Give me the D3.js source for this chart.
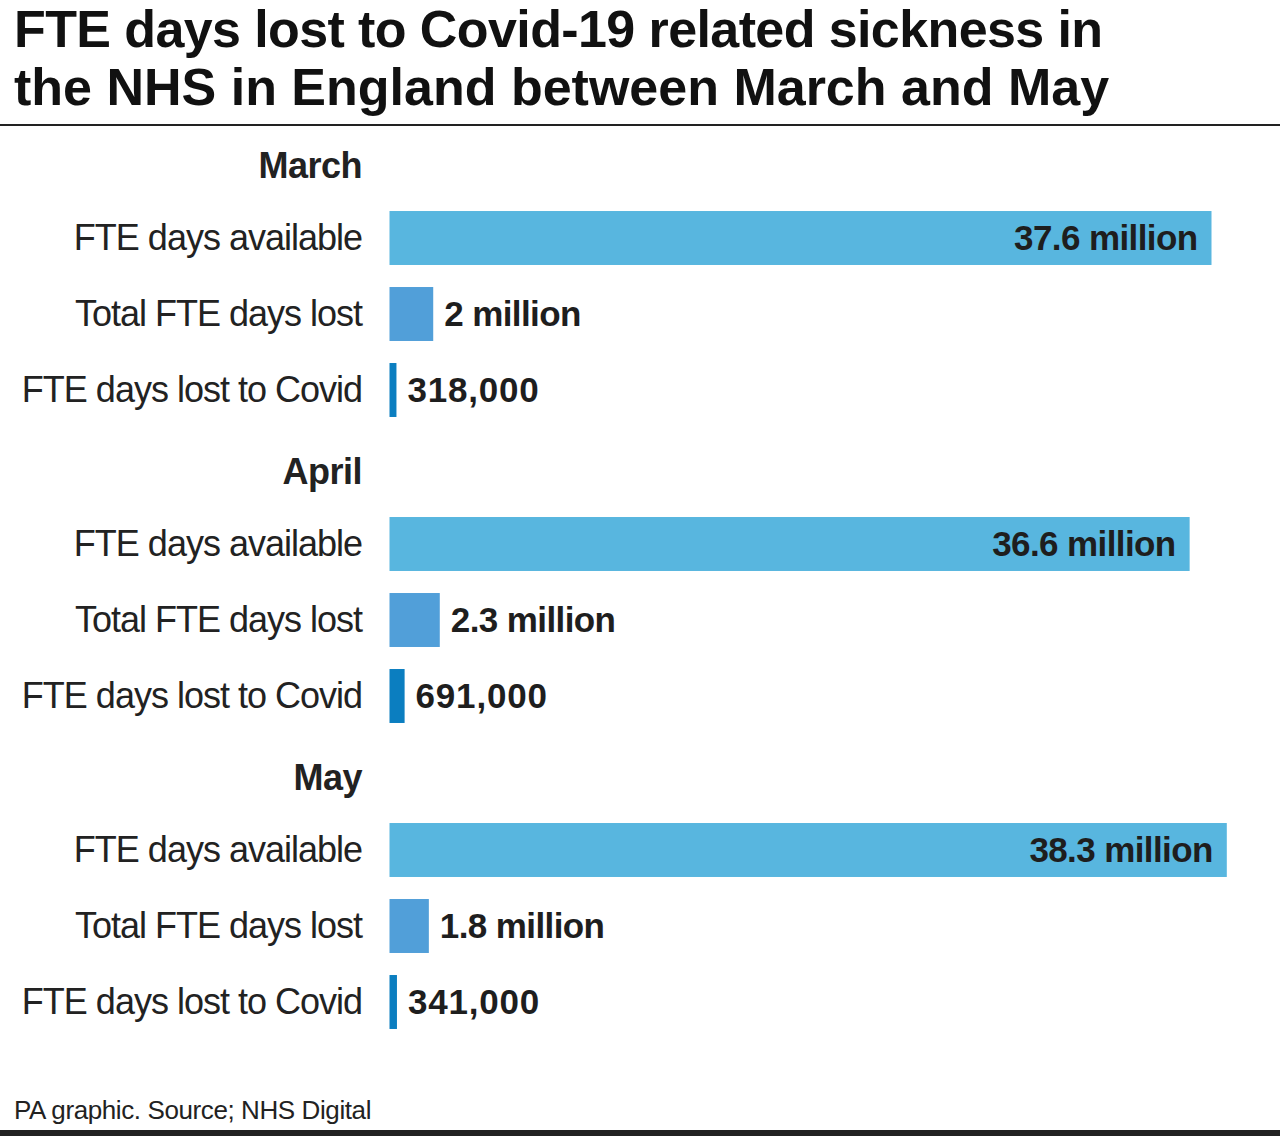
<!DOCTYPE html>
<html>
<head>
<meta charset="utf-8">
<script src="https://cdn.jsdelivr.net/npm/d3@7"></script>
<style>
  body { margin: 0; background: #fff; }
  svg text { font-family: "Liberation Sans", Arial, sans-serif; }
</style>
</head>
<body>
<div id="chart"></div>
<script>
// data (millions of FTE days)
const months = ["March", "April", "May"];
const rows = ["FTE days available", "Total FTE days lost", "FTE days lost to Covid"];
const available = [37.6, 36.6, 38.3];
const totalLost = [2.0, 2.3, 1.8];
const covidLost = [0.318, 0.691, 0.341];
const valueLabels = [
  ["37.6 million", "2 million", "318,000"],
  ["36.6 million", "2.3 million", "691,000"],
  ["38.3 million", "1.8 million", "341,000"]
];
const rowColors = ["#58b6df", "#519fd9", "#0b7ec0"];

const width = 1280, height = 1136;

const svg = d3.select("#chart")
  .append("svg")
  .attr("width", width)
  .attr("height", height);

// title
const title = svg.append("text")
  .attr("x", 14)
  .attr("font-size", 52)
  .attr("font-weight", "bold")
  .attr("fill", "#111");
title.append("tspan").attr("x", 14).attr("y", 47)
  .attr("letter-spacing", -0.6)
  .text("FTE days lost to Covid-19 related sickness in");
title.append("tspan").attr("x", 14).attr("y", 105)
  .attr("letter-spacing", 0)
  .text("the NHS in England between March and May");

svg.append("line")
  .attr("x1", 0).attr("x2", width)
  .attr("y1", 125).attr("y2", 125)
  .attr("stroke", "#222").attr("stroke-width", 2);

// scales
const x = d3.scaleLinear().domain([0, 37.6]).range([389.5, 1211.5]);
const groupY = d3.scaleBand().domain(months).range([131, 1049]);
const rowY = d3.scaleBand().domain(rows).range([69, 297]).paddingInner(0.29).paddingOuter(0.145);

const groups = svg.selectAll("g.month")
  .data(months)
  .join("g")
  .attr("class", "month")
  .attr("transform", d => `translate(0,${groupY(d)})`);

groups.append("text")
  .attr("x", 362)
  .attr("y", 47)
  .attr("text-anchor", "end")
  .attr("font-size", 36)
  .attr("font-weight", "bold")
  .attr("fill", "#222")
  .attr("letter-spacing", -0.5)
  .text(d => d);

const rowData = (m, i) => rows.map((r, j) => ({
  row: r,
  j: j,
  value: [available, totalLost, covidLost][j][i],
  label: valueLabels[i][j]
}));

const rowG = groups.selectAll("g.row")
  .data((m, i) => rowData(m, i))
  .join("g")
  .attr("class", "row")
  .attr("transform", d => `translate(0,${rowY(d.row)})`);

rowG.append("text")
  .attr("x", 362)
  .attr("y", rowY.bandwidth() / 2 + 12)
  .attr("text-anchor", "end")
  .attr("font-size", 36)
  .attr("fill", "#222")
  .attr("letter-spacing", -1.0)
  .text(d => d.row);

rowG.append("rect")
  .attr("x", x(0))
  .attr("y", 0)
  .attr("width", d => Math.max(6, x(d.value) - x(0)))
  .attr("height", rowY.bandwidth())
  .attr("fill", d => rowColors[d.j]);

rowG.append("text")
  .attr("x", d => d.j === 0 ? x(d.value) - 14 : x(0) + Math.max(6, x(d.value) - x(0)) + 11)
  .attr("y", rowY.bandwidth() / 2 + 12)
  .attr("text-anchor", d => d.j === 0 ? "end" : "start")
  .attr("font-size", 35)
  .attr("font-weight", "bold")
  .attr("fill", "#1e1e1e")
  .attr("letter-spacing", d => d.j === 2 ? 0.8 : -0.6)
  .text(d => d.label);

// footer
svg.append("text")
  .attr("x", 14)
  .attr("y", 1119)
  .attr("font-size", 26)
  .attr("fill", "#222")
  .attr("letter-spacing", -0.4)
  .text("PA graphic. Source; NHS Digital");

svg.append("rect")
  .attr("x", 0).attr("y", 1130)
  .attr("width", width).attr("height", 6)
  .attr("fill", "#222");
</script>
</body>
</html>
